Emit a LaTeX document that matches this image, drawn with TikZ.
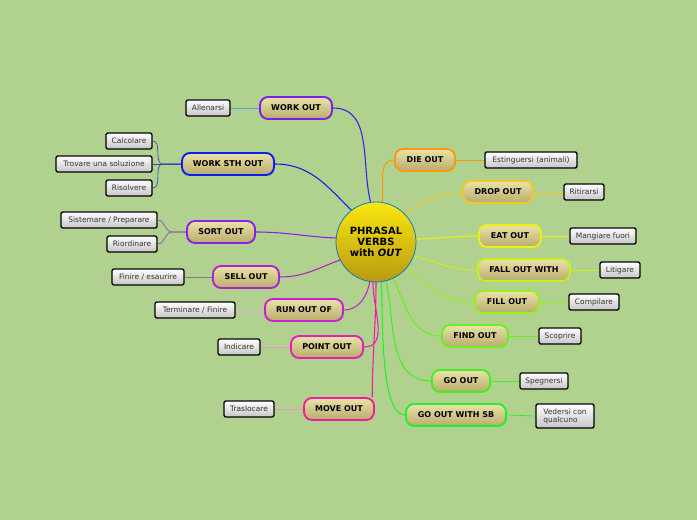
\documentclass[tikz,border=0pt]{standalone}
\usepackage{fontspec}
\setmainfont{DejaVu Sans}
\begin{document}
\begin{tikzpicture}[x=0.75pt,y=-0.75pt,
  br/.style={rounded corners=6pt,line width=1.4pt,top color=brlight,bottom color=brdark,minimum height=16.5pt,inner xsep=2pt,font=\fontsize{6}{7}\selectfont\bfseries,text=black},
  lf/.style={rounded corners=1.5pt,draw=black,line width=1pt,top color=white,bottom color=gray!45,minimum height=12pt,inner xsep=2pt,font=\fontsize{5.6}{6.5}\selectfont,text=black!80,align=left},
  ln/.style={line width=0.8pt},
  tl/.style={line width=0.5pt}]
\definecolor{bg}{HTML}{B0D28E}
\definecolor{brlight}{HTML}{EAE2A8}
\definecolor{brdark}{HTML}{B9AC6C}
\definecolor{cwo}{HTML}{7B1FE8}
\definecolor{cwso}{HTML}{0A1EF0}
\definecolor{cso}{HTML}{8A20E8}
\definecolor{csl}{HTML}{B020D0}
\definecolor{cro}{HTML}{C820D8}
\definecolor{cpo}{HTML}{E020B8}
\definecolor{cmo}{HTML}{F01CA0}
\definecolor{cdi}{HTML}{F89A10}
\definecolor{cdr}{HTML}{F0C828}
\definecolor{cea}{HTML}{F0F010}
\definecolor{cfa}{HTML}{C8F020}
\definecolor{cfi}{HTML}{98F020}
\definecolor{cfn}{HTML}{68F020}
\definecolor{cgo}{HTML}{40F020}
\definecolor{cgw}{HTML}{20F030}
\definecolor{ctop}{HTML}{FAE810}
\definecolor{cbot}{HTML}{B89A10}
\fill[bg] (0,0) rectangle (697,520);
\useasboundingbox (0,0) rectangle (697,520);
\newcommand{\brnode}[6]{\node[br,draw=#5,minimum width=#4*0.75pt] (#1) at (#2,#3) {#6};}
\brnode{wo}{296}{108}{72}{cwo}{WORK OUT}
\brnode{wso}{228}{164}{92}{cwso}{WORK STH OUT}
\brnode{so}{221}{232}{68}{cso}{SORT OUT}
\brnode{sl}{246}{277}{66}{csl}{SELL OUT}
\brnode{ro}{304}{310}{78}{cro}{RUN OUT OF}
\brnode{po}{327}{347}{72}{cpo}{POINT OUT}
\brnode{mo}{339}{409}{70}{cmo}{MOVE OUT}
\brnode{di}{425}{160}{60}{cdi}{DIE OUT}
\brnode{dr}{498}{192}{70}{cdr}{DROP OUT}
\brnode{ea}{510}{236}{62}{cea}{EAT OUT}
\brnode{fa}{524}{270}{92}{cfa}{FALL OUT WITH}
\brnode{fi}{507}{302}{64}{cfi}{FILL OUT}
\brnode{fn}{475}{336}{66}{cfn}{FIND OUT}
\brnode{go}{461}{381}{58}{cgo}{GO OUT}
\brnode{gw}{456}{415}{100}{cgw}{GO OUT WITH SB}
\newcommand{\lfnode}[5]{\node[lf,minimum width=#4*0.75pt] (#1) at (#2,#3) {#5};}
\lfnode{l1}{208}{108}{44}{Allenarsi}
\lfnode{l2}{129}{141}{46}{Calcolare}
\lfnode{l3}{104}{164}{96}{Trovare una soluzione}
\lfnode{l4}{129}{188}{46}{Risolvere}
\lfnode{l5}{109}{220}{96}{Sistemare / Preparare}
\lfnode{l6}{132}{244}{50}{Riordinare}
\lfnode{l7}{148}{277}{72}{Finire / esaurire}
\lfnode{l8}{195}{310}{80}{Terminare / Finire}
\lfnode{l9}{239}{347}{42}{Indicare}
\lfnode{l10}{249}{409}{50}{Traslocare}
\lfnode{r1}{531}{160}{92}{Estinguersi (animali)}
\lfnode{r2}{584}{192}{40}{Ritirarsi}
\lfnode{r3}{603}{236}{66}{Mangiare fuori}
\lfnode{r4}{620}{270}{40}{Litigare}
\lfnode{r5}{594}{302}{50}{Compilare}
\lfnode{r6}{560}{336}{42}{Scoprire}
\lfnode{r7}{544}{381}{48}{Spegnersi}
\node[lf,minimum width=58*0.75pt,font=\fontsize{5.6}{6}\selectfont] (r8) at (565,416) {Vedersi con\\qualcuno};
\coordinate (cc) at (376,242);
\draw[ln,draw=cwso!60!cwo] (cc) ++(-5,-38) coordinate (a1) (a1) to[out=105,in=0] (wo.east);
\draw[ln,draw=cwso] (cc) ++(-24,-31) coordinate (a2) (a2) to[out=135,in=0] (wso.east);
\draw[ln,draw=cso] (cc) ++(-39,-4) coordinate (a3) (a3) to[out=178,in=0] (so.east);
\draw[ln,draw=csl] (cc) ++(-36,18) coordinate (a4) (a4) to[out=200,in=0] (sl.east);
\draw[ln,draw=cro] (cc) ++(-6,39) coordinate (a5) (a5) to[out=260,in=0] (ro.east);
\draw[ln,draw=cpo] (cc) ++(-3,39) coordinate (a6) (a6) to[out=268,in=0] (po.east);
\draw[ln,draw=cmo] (cc) ++(0,40) coordinate (a7) (a7) to[out=270,in=90] ([xshift=-2pt]mo.north east);
\draw[ln,draw=cdi] (cc) ++(6,-39) coordinate (b1) (b1) to[out=80,in=180] (di.west);
\draw[ln,draw=cdr] (cc) ++(28,-28) coordinate (b2) (b2) to[out=30,in=180] (dr.west);
\draw[ln,draw=cea] (cc) ++(40,-3) coordinate (b3) (b3) to[out=0,in=180] (ea.west);
\draw[ln,draw=cfa] (cc) ++(38,14) coordinate (b4) (b4) to[out=-15,in=180] (fa.west);
\draw[ln,draw=cfi] (cc) ++(30,26) coordinate (b5) (b5) to[out=-40,in=180] (fi.west);
\draw[ln,draw=cfn] (cc) ++(17,36) coordinate (b6) (b6) to[out=-65,in=180] (fn.west);
\draw[ln,draw=cgo] (cc) ++(10,38) coordinate (b7) (b7) to[out=-78,in=180] (go.west);
\draw[ln,draw=cgw] (cc) ++(5,39) coordinate (b8) (b8) to[out=-84,in=180,looseness=0.5] (gw.west);
\node[circle,minimum size=60pt,draw=cyan!60!blue,line width=0.6pt,inner sep=0pt,
  top color=ctop,bottom color=cbot,
  align=center,font=\fontsize{7.5}{8.5}\selectfont\bfseries] (c) at (cc) {PHRASAL\\VERBS\\with \textit{OUT}};
\draw[tl,draw=cyan!60!gray] (wo.west) -- (l1.east);
\draw[tl,draw=blue!50!gray] (wso.west) -- (l3.east);
\draw[tl,draw=blue!50!gray] (wso.west) -- ++(-18,0) to[out=180,in=0] (l2.east);
\draw[tl,draw=blue!50!gray] (wso.west) -- ++(-18,0) to[out=180,in=0] (l4.east);
\draw[tl,draw=cso!50!gray] (so.west) -- ++(-14,0) to[out=180,in=0] (l5.east);
\draw[tl,draw=cso!50!gray] (so.west) -- ++(-14,0) to[out=180,in=0] (l6.east);
\draw[tl,draw=gray] (sl.west) -- (l7.east);
\draw[tl,draw=cro!40] (ro.west) -- (l8.east);
\draw[tl,draw=cpo!50] (po.west) -- (l9.east);
\draw[tl,draw=cmo!50] (mo.west) -- (l10.east);
\draw[tl,draw=cdi] (di.east) -- (r1.west);
\draw[tl,draw=cdr] (dr.east) -- (r2.west);
\draw[tl,draw=cea] (ea.east) -- (r3.west);
\draw[tl,draw=cfa] (fa.east) -- (r4.west);
\draw[tl,draw=cfi] (fi.east) -- (r5.west);
\draw[tl,draw=cfn] (fn.east) -- (r6.west);
\draw[tl,draw=cgo] (go.east) -- (r7.west);
\draw[tl,draw=cgw] (gw.east) -- (r8.west);
\end{tikzpicture}
\end{document}
